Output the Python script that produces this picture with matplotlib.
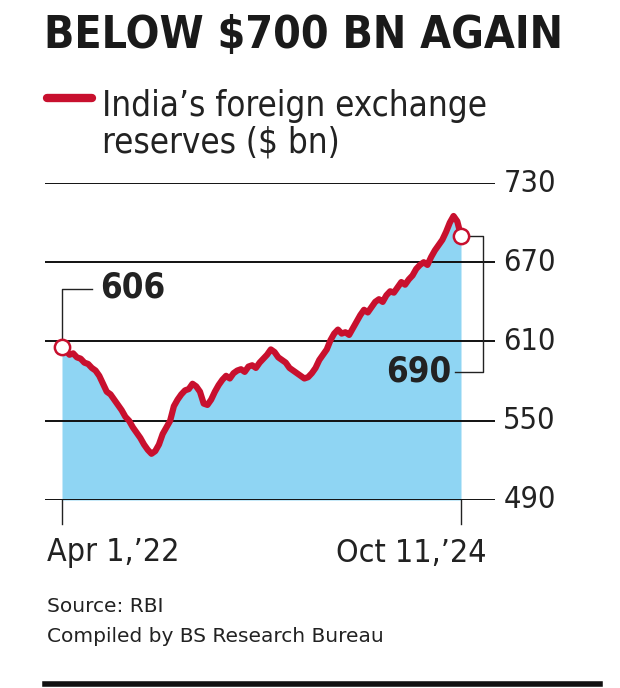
import matplotlib
matplotlib.use("Agg")
import matplotlib.pyplot as plt
import numpy as np

title = "BELOW $700 BN AGAIN"
legend_text = "India\u2019s foreign exchange\nreserves ($ bn)"
reserves = [606, 603, 600, 601, 598, 597, 594, 593, 590, 588, 584, 578, 572, 570, 566, 562, 558, 553, 550, 545,
            541, 537, 532, 528, 525, 527, 532, 540, 545, 550, 561, 566, 570, 573, 574, 578, 576, 572, 563, 562,
            566, 572, 577, 581, 584, 582, 586, 588, 589, 587, 591, 592, 590, 594, 597, 600, 604, 602, 598, 596,
            594, 590, 588, 586, 584, 582, 583, 586, 590, 596, 600, 604, 611, 616, 619, 616, 617, 615, 620, 625,
            630, 634, 632, 636, 640, 642, 640, 645, 648, 647, 651, 655, 653, 657, 660, 665, 668, 670, 668, 674,
            679, 683, 687, 693, 700, 705, 701, 690]
yticks = [490, 550, 610, 670, 730]
start_label, end_label = "Apr 1,\u201922", "Oct 11,\u201924"

W, H = 620, 688
fig = plt.figure(figsize=(6.2, 6.88), dpi=100)
fx = lambda p: p / W
fy = lambda p: 1 - p / H

ax = fig.add_axes([fx(45), fy(500), fx(495) - fx(45), fy(183) - fy(500)])
n = len(reserves)
s = (461 - 62) / (n - 1)
ax.set_xlim(-17 / s, n - 1 + 34 / s)
ax.set_ylim(490, 730)
x = np.arange(n)
red = "#c8102e"
ax.fill_between(x, reserves, 490, color="#8fd5f3", lw=0)
ax.plot(x, reserves, color=red, lw=4.5, solid_capstyle="round", zorder=3)
for v in yticks:
    ax.axhline(v, color="#111", lw=1.4, zorder=1)
for sp in ax.spines.values():
    sp.set_visible(False)
ax.set_xticks([]); ax.set_yticks([])
for v in yticks:
    ax.annotate(str(v), xy=(1, v), xycoords=("axes fraction", "data"), xytext=(6, 0),
                textcoords="offset points", va="center", ha="left", fontsize=22,
                family="DejaVu Sans", fontstretch="condensed", color="#222")

ax.plot([0], [reserves[0]], "o", ms=11, mfc="white", mec=red, mew=1.8, zorder=5, clip_on=False)
ax.plot([n - 1], [reserves[-1]], "o", ms=11, mfc="white", mec=red, mew=1.8, zorder=5, clip_on=False)
lk = dict(color="#222", lw=1, clip_on=False, zorder=4)
ax.plot([0, 0, 30 / s], [reserves[0] + 6, 650, 650], **lk)
ax.plot([(n - 1) + 8 / s, (n - 1) + 22 / s, (n - 1) + 22 / s, (n - 1) - 6 / s],
        [reserves[-1], reserves[-1], 587, 587], **lk)
ax.text(38 / s, 651, str(reserves[0]), fontsize=25, weight="bold", va="center",
        fontstretch="condensed", color="#222")
ax.text((n - 1) - 10 / s, 587, str(reserves[-1]), fontsize=25, weight="bold", va="center",
        ha="right", fontstretch="condensed", color="#222")
ax.plot([0, 0], [490, 472], **lk)
ax.plot([n - 1, n - 1], [490, 472], **lk)

fig.text(fx(44), fy(35), title, fontsize=32, weight="bold", va="center", ha="left",
         fontstretch="condensed", color="#1a1a1a")
fig.add_artist(plt.Line2D([fx(47), fx(92)], [fy(98), fy(98)], color=red, lw=6, solid_capstyle="round"))
fig.text(fx(102), fy(124), legend_text, fontsize=25, va="center", ha="left", linespacing=1.1,
         fontstretch="condensed", color="#222")
fig.text(fx(47), fy(553), start_label, fontsize=23, va="center", ha="left", color="#222",
         fontstretch="condensed")
fig.text(fx(487), fy(553), end_label, fontsize=23, va="center", ha="right", color="#222",
         fontstretch="condensed")
fig.text(fx(47), fy(606), "Source: RBI", fontsize=14.5, va="center", color="#222")
fig.text(fx(47), fy(637), "Compiled by BS Research Bureau", fontsize=14.5, va="center", color="#222")
fig.add_artist(plt.Line2D([fx(45), fx(600)], [fy(684), fy(684)], color="#111", lw=4))
fig.savefig("out.png", dpi=100, facecolor="white")
